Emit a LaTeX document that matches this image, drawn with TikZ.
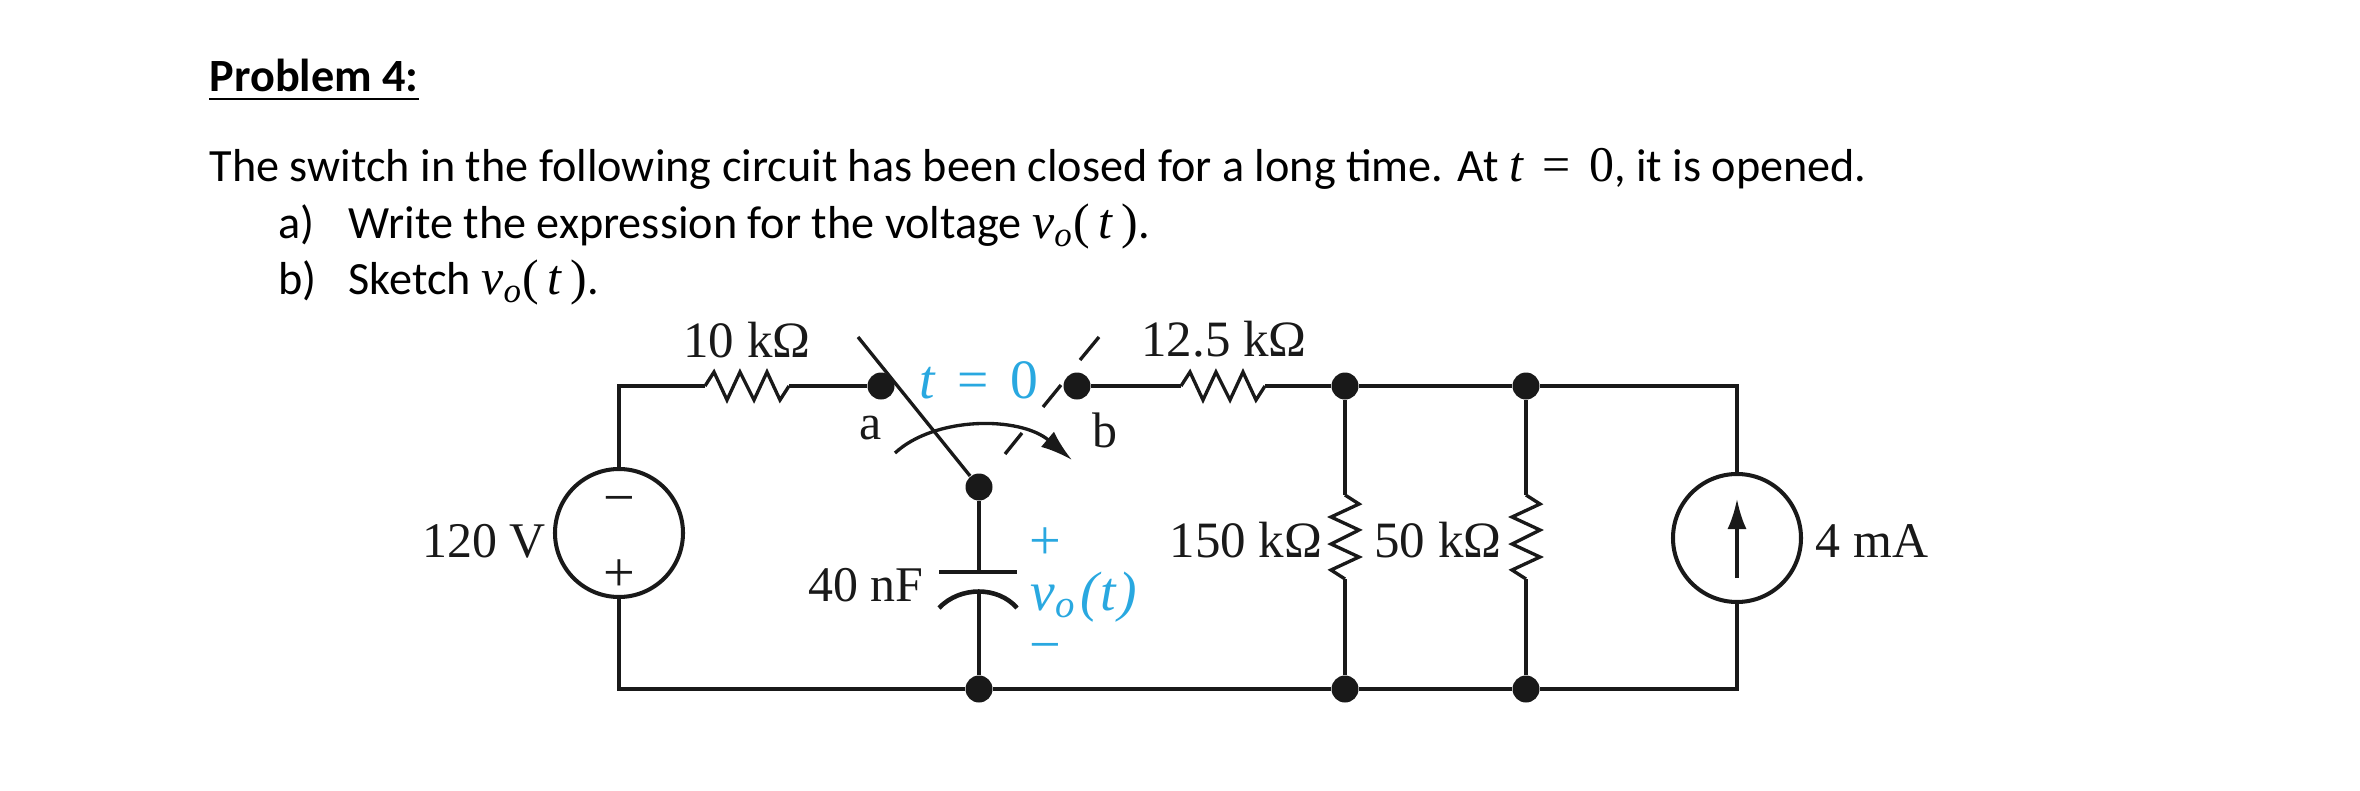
\documentclass[tikz,border=0pt]{standalone}
\usepackage{amsmath,amssymb}
\usepackage{fontspec}
\usepackage{xcolor}
\usetikzlibrary{arrows.meta}
\setmainfont{Carlito}
\newfontfamily\circfont{Liberation Serif}
\definecolor{mycyan}{rgb}{0.16,0.66,0.88}
\definecolor{myink}{gray}{0.1}
\newcommand{\mvar}[1]{{\circfont\fontsize{14.2}{15}\selectfont #1}}
\newcommand{\vot}{\mvar{\textit{v}\textsubscript{\textit{o}}(\,\textit{t}\,)}}
\tikzset{
  wire/.style={draw=myink, line width=0.95pt},
  dot/.style={circle, fill=myink, inner sep=0pt, minimum size=0.27cm},
  src/.style={circle, draw=myink, line width=1.15pt, inner sep=0pt, minimum size=1.28cm},
  txt/.style={anchor=base west, inner sep=0pt, font=\fontsize{13.15}{15}\selectfont},
  lab/.style={anchor=base, inner sep=0pt, text=myink, font=\circfont\fontsize{14.2}{16}\selectfont},
  labk/.style={lab, font=\circfont\fontsize{14.5}{16}\selectfont},
  cyanlab/.style={anchor=base, inner sep=0pt, text=mycyan, font=\circfont\fontsize{15.8}{16}\selectfont},
  sign/.style={inner sep=0pt, font=\circfont\fontsize{16}{16}\selectfont},
  res/.pic={
    \coordinate (-in) at (-0.42,0);
    \coordinate (-out) at (0.42,0);
    \draw[wire] (-in) -- (-0.33,0.14) -- (-0.20,-0.14) -- (-0.07,0.14) -- (0.07,-0.14)
      -- (0.20,0.14) -- (0.33,-0.14) -- (-out);
  }
}
\begin{document}
\begin{tikzpicture}
\useasboundingbox (0,0) rectangle (23.6,7.9);
% text
\node[txt] (title) at (2.09,6.99) {\textbf{Problem 4:}};
\draw[line width=0.85pt] ([yshift=-0.08cm]title.base west) -- ([yshift=-0.08cm]title.base east);
\node[txt] (intro) at (2.09,6.085) {The switch in the following circuit has been closed for a long time. At \mvar{\textit{t}\hspace{0.37em}=\hspace{0.37em}0}, it is opened.};
\node[txt] (parta) at (2.78,5.515) {a)};
\node[txt] (atext) at (3.48,5.515) {Write the expression for the voltage \vot.};
\node[txt] (partb) at (2.78,4.955) {b)};
\node[txt] (btext) at (3.48,4.955) {Sketch \vot.};
% corners and junctions
\coordinate (tl) at (6.19,4.04);
\coordinate (bl) at (6.19,1.01);
\coordinate (tr) at (17.37,4.04);
\coordinate (br) at (17.37,1.01);
\node[dot] (a) at (8.81,4.04) {};
\node[dot] (b) at (10.77,4.04) {};
\node[dot] (piv) at (9.79,3.03) {};
\node[dot] (g1) at (9.79,1.01) {};
\node[dot] (n1) at (13.45,4.04) {};
\node[dot] (n2) at (15.26,4.04) {};
\node[dot] (g2) at (13.45,1.01) {};
\node[dot] (g3) at (15.26,1.01) {};
% sources
\node[src] (vs) at (6.19,2.57) {};
\node[src] (is) at (17.37,2.52) {};
% resistors
\pic (r1) at (7.47,4.04) {res};
\pic (r2) at (12.23,4.04) {res};
\pic[rotate=-90] (r3) at (13.45,2.53) {res};
\pic[rotate=-90] (r4) at (15.26,2.53) {res};
% capacitor
\coordinate (c1) at (9.79,2.18);
\coordinate (c2) at (9.79,1.98);
\draw[wire, line width=1.4pt] (9.39,2.18) -- (10.17,2.18);
\draw[wire, line width=1.3pt] (9.39,1.82) .. controls (9.6,2.04) and (9.98,2.04) .. (10.17,1.82);
% wires
\draw[wire] (vs) -- (tl) -- (r1-in);
\draw[wire] (r1-out) -- (a);
\draw[wire] (b) -- (r2-in);
\draw[wire] (r2-out) -- (n1) -- (n2) -- (tr) -- (is);
\draw[wire] (is) -- (br) -- (g3) -- (g2) -- (g1) -- (bl) -- (vs);
\draw[wire] (n1) -- (r3-in);
\draw[wire] (r3-out) -- (g2);
\draw[wire] (n2) -- (r4-in);
\draw[wire] (r4-out) -- (g3);
\draw[wire] (piv) -- (c1);
\draw[wire] (c2) -- (g1);
% switch
\coordinate (swt) at (8.58,4.53);
\draw[wire] (swt) -- (piv);
\draw[wire] (10.99,4.53) -- (10.80,4.30);
\draw[wire] (10.61,4.05) -- (10.43,3.83);
\draw[wire, -{Latex[length=0.32cm,width=0.2cm]}] (8.95,3.37) .. controls (9.35,3.74) and (10.2,3.74) .. (10.72,3.30);
\draw[wire] (10.22,3.57) -- (10.05,3.36);
% source marks
\node[sign, text=myink] (vsm) at (6.19,2.835) {−};
\node[sign, text=myink] (vsp) at (6.19,2.145) {+};
\draw[wire, -{Latex[length=0.3cm,width=0.19cm]}] (17.37,2.12) -- (17.37,2.91);
% labels
\node[labk] (l1) at (7.47,4.33) {10 kΩ};
\node[labk] (l2) at (12.24,4.34) {12.5 kΩ};
\node[lab] (la) at (8.71,3.51) {a};
\node[lab] (lb) at (11.05,3.43) {b};
\node[lab] (lv) at (4.84,2.33) {120 V};
\node[lab] (lc) at (8.66,1.89) {40 nF};
\node[labk] (l3) at (12.46,2.33) {150 kΩ};
\node[labk] (l4) at (14.38,2.33) {50 kΩ};
\node[lab] (li) at (18.72,2.33) {4 mA};
\node[cyanlab] (lt) at (9.79,3.92) {\textit{t}\hspace{0.39em}=\hspace{0.39em}0};
\node[sign, text=mycyan] (cp) at (10.45,2.465) {+};
\node[cyanlab] (lvo) at (10.84,1.80) {\textit{v\textsubscript{o}\kern0.06em(\kern0.04em t\kern0.04em)}};
\node[sign, text=mycyan] (cm) at (10.45,1.365) {−};
\end{tikzpicture}
\end{document}
